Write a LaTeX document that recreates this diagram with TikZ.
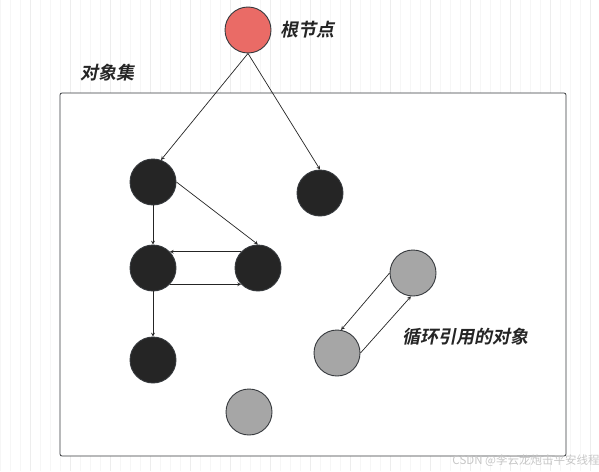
\documentclass[tikz,border=0pt]{standalone}
\usepackage{fontspec}
\usepackage{tikz}
\usetikzlibrary{shapes.geometric, arrows, positioning}
\newfontfamily\cjkbi[FakeSlant=0.2]{Noto Sans CJK SC Bold}
\newfontfamily\cjk{Noto Sans CJK SC}
\definecolor{rootred}{HTML}{EA6B66}
\definecolor{objblack}{HTML}{252525}
\definecolor{cyclegray}{HTML}{A6A6A6}
\definecolor{edgegray}{HTML}{36393D}
\tikzstyle{obj} = [circle, minimum size=46pt, inner sep=0pt, draw=edgegray, line width=0.9pt]
\tikzstyle{objroot} = [obj, fill=rootred]
\tikzstyle{objlive} = [obj, fill=objblack]
\tikzstyle{objdead} = [obj, fill=cyclegray]
\tikzstyle{lbl} = [font=\cjkbi\fontsize{18}{20}\selectfont, text=objblack]
\tikzstyle{arrow} = [line width=0.7pt, ->, >=stealth, draw=objblack]

\begin{document}
\begin{tikzpicture}[x=1pt, y=-1pt]
          \useasboundingbox (0,0) rectangle (599,471);
          % background grid
          \draw [gray!7, line width=0.6pt] (0,0) grid[step=10] (599,471);
          \draw [gray!14, line width=0.8pt, shift={(30,35)}] (-30,-35) grid[step=40] (569,436);
          \node (objset) [rectangle, minimum width=506pt, minimum height=363pt, rounded corners=2pt, fill=white, draw=edgegray, line width=0.8pt] at (313,274.5) {};
          \node (setlbl) [lbl] at (107,73) {对象集};
          \node (rt) [objroot] at (248,30) {};
          \node (rtlbl) [lbl, right=6pt of rt] {根节点};
          \node (a) [objlive] at (153,182) {};
          \node (b) [objlive] at (320,193) {};
          \node (c) [objlive] at (153,268) {};
          \node (d) [objlive] at (258,268) {};
          \node (e) [objlive] at (153,360) {};
          \node (f) [objdead] at (413,273) {};
          \node (g) [objdead] at (337,353) {};
          \node (h) [objdead] at (249,412) {};
          \node (cyclbl) [lbl] at (465,337) {循环引用的对象};
          \node (mark) [font=\cjk\fontsize{11.5}{13}\selectfont, text=gray!45] at (526,461) {CSDN @李云龙炮击平安线程};
          \draw [arrow] (rt.south) -- (a.70);
          \draw [arrow] (rt.south) -- (b.north);
          \draw [arrow] (a) -- (c);
          \draw [arrow] (a.east) -- (d.north);
          \draw [arrow] (d.136) -- (c.44);
          \draw [arrow] (c.-44) -- (d.-136);
          \draw [arrow] (c) -- (e);
          \draw [arrow] (f.west) -- (g.80);
          \draw [arrow] (g.east) -- (f.265);
        \end{tikzpicture}
\end{document}
